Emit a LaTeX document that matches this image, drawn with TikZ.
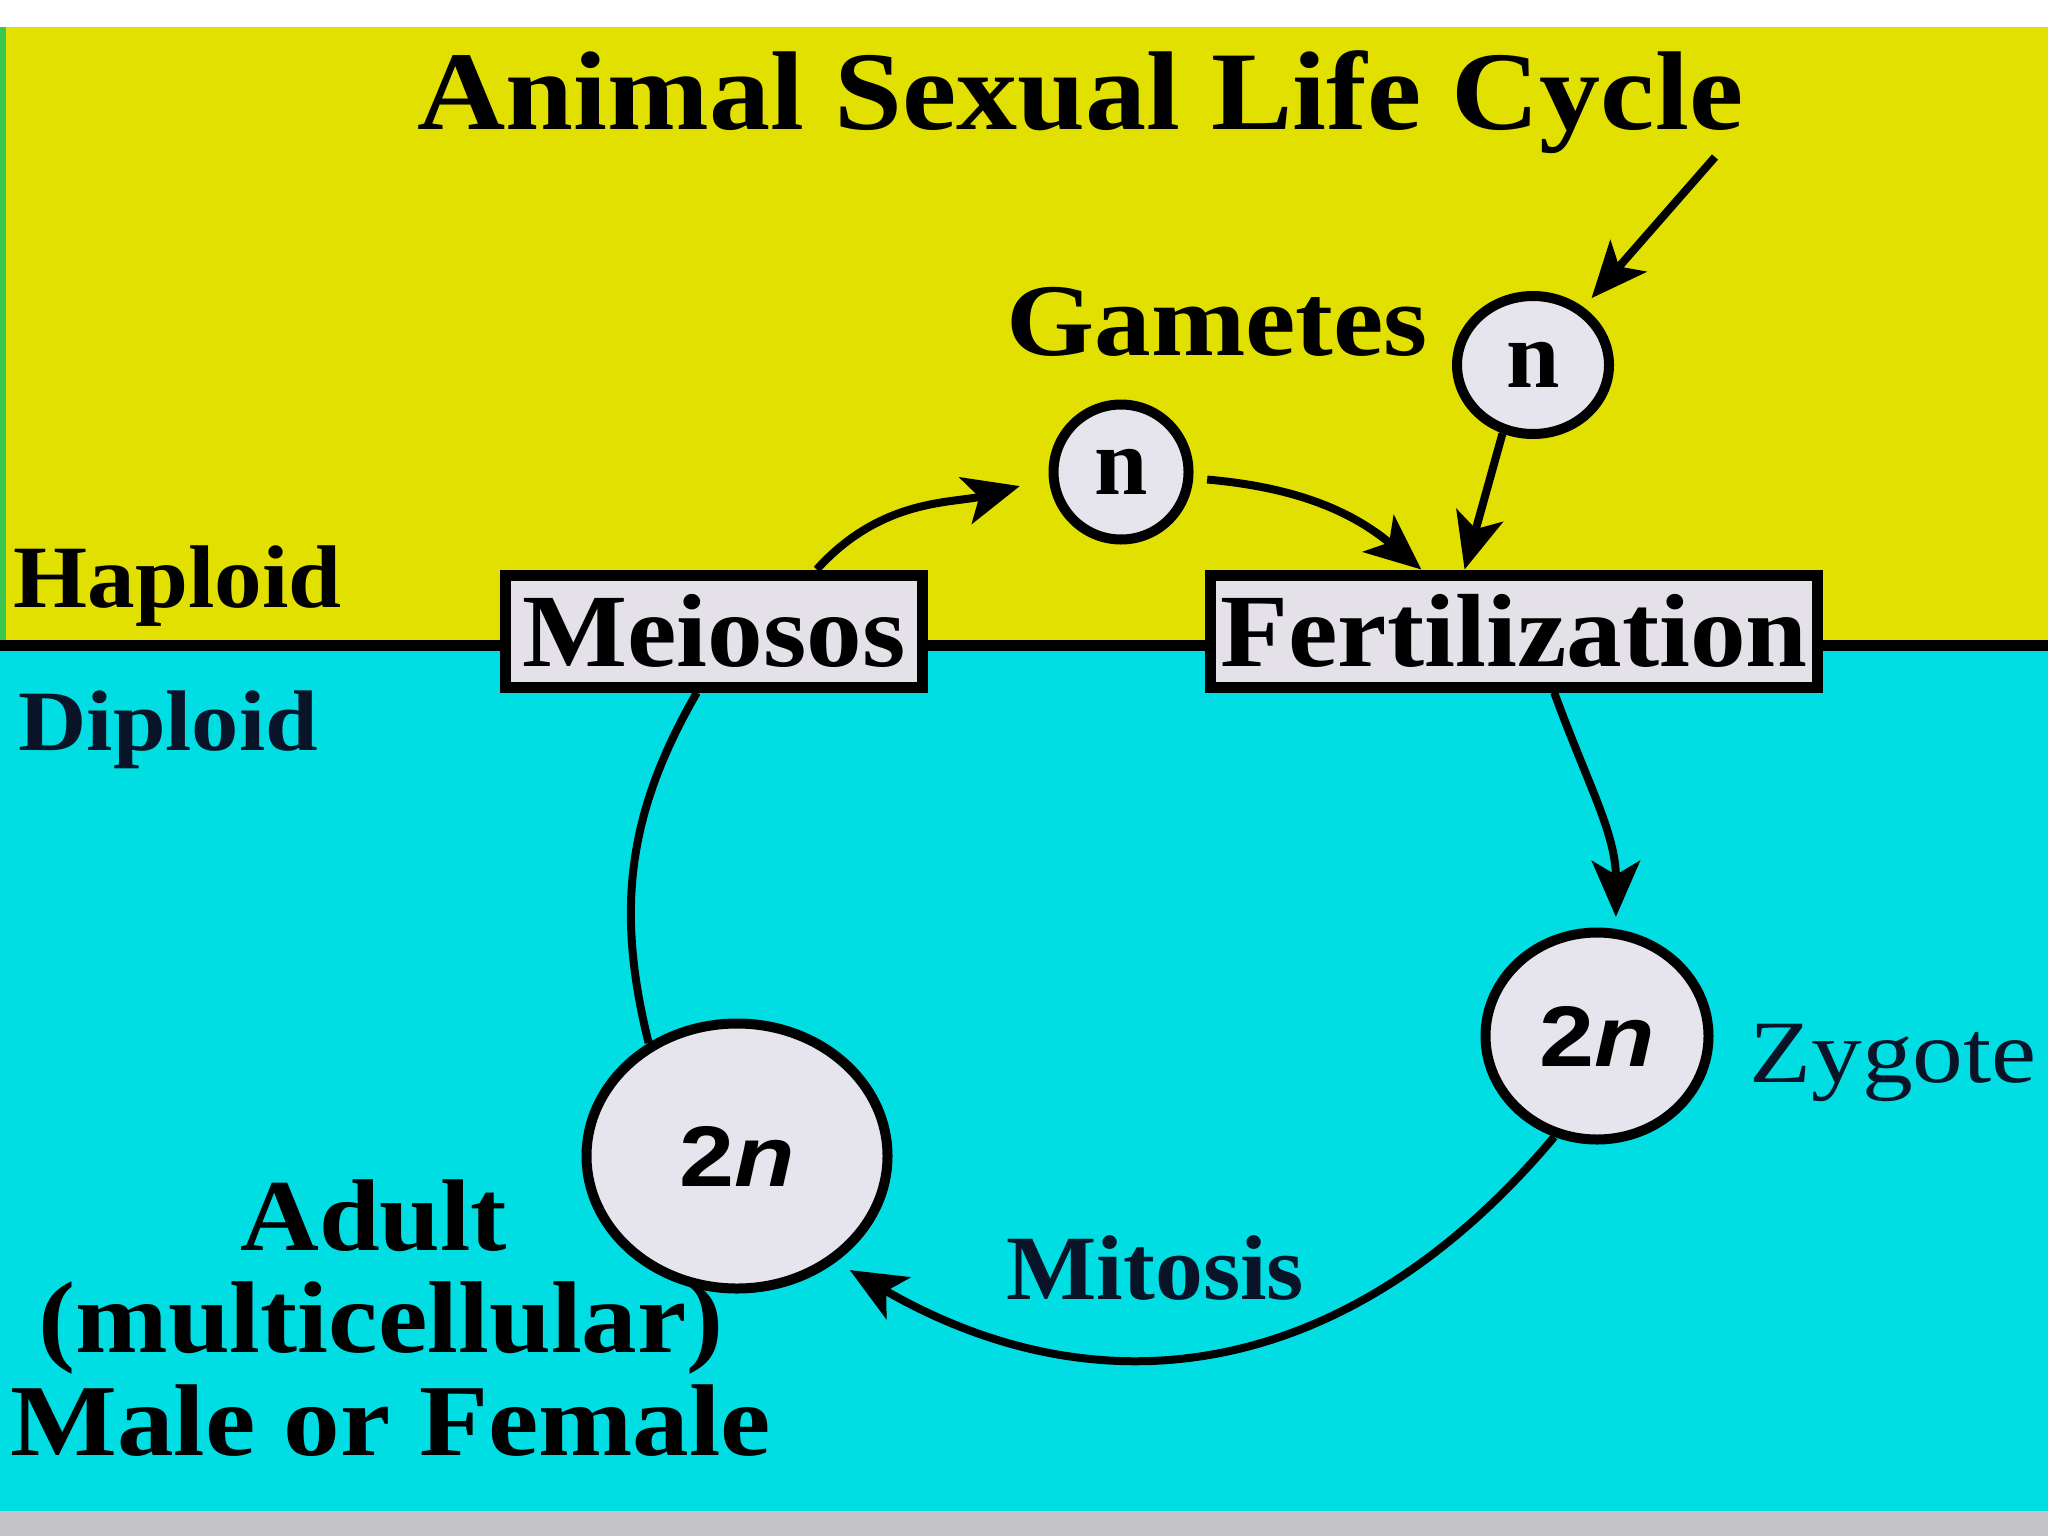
\documentclass[tikz,border=0pt]{standalone}
\usepackage{fontspec}
\setmainfont{Liberation Serif}
\setsansfont{Liberation Sans}
\usepackage{graphicx}
\usetikzlibrary{shapes.geometric,arrows.meta,calc}
\definecolor{bgyellow}{HTML}{E2E000}
\definecolor{bgcyan}{HTML}{00DEE4}
\definecolor{bggray}{HTML}{C4C4C8}
\definecolor{cellfill}{HTML}{E6E4EC}
\definecolor{boxfill}{HTML}{E4E2E8}
\definecolor{inknavy}{HTML}{0A1428}
\definecolor{edgegreen}{HTML}{3CC850}
\newcommand\fsz[1]{\fontsize{#1}{#1}\selectfont}
\newcommand\sx[2]{\scalebox{#1}[1]{#2}}
\begin{document}
\begin{tikzpicture}[x=0.5pt,y=0.5pt,
  lbl/.style={inner sep=0pt, anchor=base west, font=\bfseries},
  stagebox/.style={draw=black, line width=5.5pt, fill=boxfill, rectangle, inner sep=0pt, minimum height=56pt},
  cell/.style={draw=black, line width=5pt, fill=cellfill, ellipse, inner sep=0pt},
  conn/.style={line width=4pt, draw=black},
  arr/.style={conn, -{Stealth[length=28pt,width=24pt,inset=7pt]}},
]
% background bands
\fill[white] (0,0) rectangle (2048,-27);
\fill[bgyellow] (0,-27) rectangle (2048,-645);
\fill[bgcyan] (0,-645) rectangle (2048,-1511);
\fill[bggray] (0,-1511) rectangle (2048,-1536);
\fill[edgegreen] (0,-27) rectangle (6,-640);
\useasboundingbox (0,0) rectangle (2048,-1536);
\draw[line width=5.5pt] (0,-645) -- (2048,-645);

% stage boxes
\node[stagebox, minimum width=208.5pt] (meio) at (714,-631) {\fsz{52}\bfseries\sx{1.07}{Meiosos}};
\node[stagebox, minimum width=303.5pt] (fert) at (1514,-631) {\fsz{52}\bfseries\sx{1.07}{Fertilization}};

% cells
\node[cell, minimum width=67.5pt, minimum height=67.5pt] (g1) at (1121,-472) {\fsz{48}\bfseries n};
\node[cell, minimum width=76pt, minimum height=69pt] (g2) at (1533,-365) {\fsz{48}\bfseries n};
\node[cell, minimum width=111.5pt, minimum height=103.5pt] (zyg) at (1597,-1036) {\fsz{43}\sffamily\bfseries\sx{1.15}{2\textit{n}}};
\node[cell, minimum width=150.5pt, minimum height=132.5pt] (adult) at (737,-1156) {\fsz{43}\sffamily\bfseries\sx{1.15}{2\textit{n}}};

% labels
\node[lbl] (title) at (417,-129) {\fsz{56}\sx{1.09}{Animal Sexual Life Cycle}};
\node[lbl] (gam) at (1006,-355) {\fsz{51.5}\sx{1.10}{Gametes}};
\node[lbl] (hap) at (13,-607) {\fsz{44.5}\sx{1.07}{Haploid}};
\node[lbl, text=inknavy] (dip) at (18,-750) {\fsz{43}\sx{1.10}{Diploid}};
\node[lbl, font=\mdseries, text=inknavy] (zlab) at (1749,-1082) {\fsz{44.5}\sx{1.14}{Zygote}};
\node[lbl, text=inknavy] (mit) at (1006,-1299) {\fsz{46}\sx{1.04}{Mitosis}};
\node[lbl] (ad1) at (240,-1250) {\fsz{51}\sx{1.07}{Adult}};
\node[lbl] (ad2) at (38,-1352) {\fsz{51}\sx{1.09}{(multicellular)}};
\node[lbl] (ad3) at (10,-1455) {\fsz{51}\sx{1.11}{Male or Female}};

% connectors
\coordinate (src) at (1715,-157);
\draw[arr, shorten >=6pt] (src) -- (g2);
\draw[arr] (g2.-114) -- ($(fert.north west)!0.42!(fert.north east)$);
\draw[arr, shorten >=15pt] ($(meio.north west)!0.74!(meio.north east)$) to[out=48, in=195] (g1.185);
\draw[arr, shorten <=7pt] (g1.-5) to[out=-5, in=140] ($(fert.north west)!0.35!(fert.north east)$);
\draw[arr, shorten >=6pt] ($(fert.south west)!0.565!(fert.south east)$) to[out=-70, in=90] (zyg.80);
\draw[conn] ($(meio.south west)!0.46!(meio.south east)$) to[out=-120, in=104] (adult.128);
\draw[arr, shorten >=8pt] (zyg.-113) to[out=-130, in=-30, looseness=1.1] (adult.-47);
\end{tikzpicture}
\end{document}
